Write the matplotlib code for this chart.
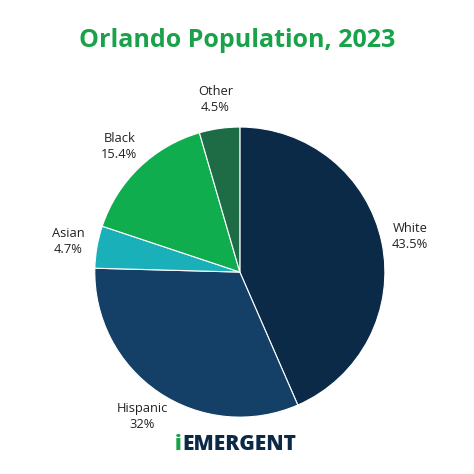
import numpy as np
import matplotlib.pyplot as plt

plt.rcParams['font.family'] = ['Open Sans', 'DejaVu Sans']

labels = ['White', 'Hispanic', 'Asian', 'Black', 'Other']
values = [43.5, 32, 4.7, 15.4, 4.5]
pct_text = ['43.5%', '32%', '4.7%', '15.4%', '4.5%']
colors = ['#0b2a47', '#143f66', '#19b0b9', '#10ad4e', '#1d6c46']

fig = plt.figure(figsize=(4.74, 4.74), dpi=100)
fig.patch.set_facecolor('white')
ax = fig.add_axes([0.506 - 0.306, 0.426 - 0.306, 0.612, 0.612])
wedges, _ = ax.pie(values, colors=colors, startangle=90, counterclock=False,
                   wedgeprops=dict(edgecolor='white', linewidth=0.8))
ax.set_aspect('equal')

for w, lab, p in zip(wedges, labels, pct_text):
    ang = np.deg2rad((w.theta1 + w.theta2) / 2)
    ax.text(1.2 * np.cos(ang), 1.2 * np.sin(ang), lab + '\n' + p,
            ha='center', va='center', fontsize=9.3, color='#222222', linespacing=1.3)
ax.set_xlim(-1, 1)
ax.set_ylim(-1, 1)

fig.text(0.5, 0.915, 'Orlando Population, 2023', ha='center', va='center',
         fontsize=18, fontweight='bold', color='#1aa24b')
fig.text(0.368, 0.063, 'i', ha='left', va='center', fontsize=15, fontweight='black', color='#1aa24b')
fig.text(0.384, 0.063, 'EMERGENT', ha='left', va='center', fontsize=15, fontweight='black', color='#0b2a47')

fig.savefig('out.png', dpi=100, facecolor='white')
